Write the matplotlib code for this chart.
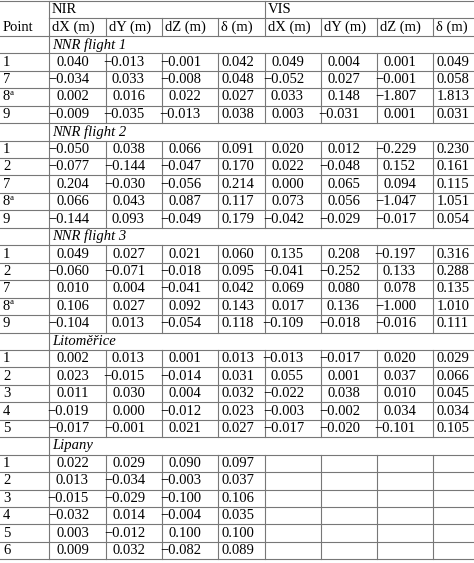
import matplotlib.pyplot as plt

plt.rcParams['font.family'] = ['Liberation Serif', 'DejaVu Serif']

groups = ['NNR flight 1', 'NNR flight 2', 'NNR flight 3', 'Litoměřice', 'Lipany']
points = [
    ['1', '7', '8a', '9'],
    ['1', '2', '7', '8a', '9'],
    ['1', '2', '7', '8a', '9'],
    ['1', '2', '3', '4', '5'],
    ['1', '2', '3', '4', '5', '6'],
]
nir = [
    [[0.040, -0.013, -0.001, 0.042], [-0.034, 0.033, -0.008, 0.048],
     [0.002, 0.016, 0.022, 0.027], [-0.009, -0.035, -0.013, 0.038]],
    [[-0.050, 0.038, 0.066, 0.091], [-0.077, -0.144, -0.047, 0.170],
     [0.204, -0.030, -0.056, 0.214], [0.066, 0.043, 0.087, 0.117],
     [-0.144, 0.093, -0.049, 0.179]],
    [[0.049, 0.027, 0.021, 0.060], [-0.060, -0.071, -0.018, 0.095],
     [0.010, 0.004, -0.041, 0.042], [0.106, 0.027, 0.092, 0.143],
     [-0.104, 0.013, -0.054, 0.118]],
    [[0.002, 0.013, 0.001, 0.013], [0.023, -0.015, -0.014, 0.031],
     [0.011, 0.030, 0.004, 0.032], [-0.019, 0.000, -0.012, 0.023],
     [-0.017, -0.001, 0.021, 0.027]],
    [[0.022, 0.029, 0.090, 0.097], [0.013, -0.034, -0.003, 0.037],
     [-0.015, -0.029, -0.100, 0.106], [-0.032, 0.014, -0.004, 0.035],
     [0.003, -0.012, 0.100, 0.100], [0.009, 0.032, -0.082, 0.089]],
]
vis = [
    [[0.049, 0.004, 0.001, 0.049], [-0.052, 0.027, -0.001, 0.058],
     [0.033, 0.148, -1.807, 1.813], [0.003, -0.031, 0.001, 0.031]],
    [[0.020, 0.012, -0.229, 0.230], [0.022, -0.048, 0.152, 0.161],
     [0.000, 0.065, 0.094, 0.115], [0.073, 0.056, -1.047, 1.051],
     [-0.042, -0.029, -0.017, 0.054]],
    [[0.135, 0.208, -0.197, 0.316], [-0.041, -0.252, 0.133, 0.288],
     [0.069, 0.080, 0.078, 0.135], [0.017, 0.136, -1.000, 1.010],
     [-0.109, -0.018, -0.016, 0.111]],
    [[-0.013, -0.017, 0.020, 0.029], [0.055, 0.001, 0.037, 0.066],
     [-0.022, 0.038, 0.010, 0.045], [-0.003, -0.002, 0.034, 0.034],
     [-0.017, -0.020, -0.101, 0.105]],
    None,
]
col_heads = ['dX (m)', 'dY (m)', 'dZ (m)', 'δ (m)']

W, H = 474, 563
fig = plt.figure(figsize=(W / 100, H / 100), dpi=100)
ax = fig.add_axes([0, 0, 1, 1])
ax.set_xlim(0, W)
ax.set_ylim(H, 0)
ax.axis('off')

xs = [0, 49, 106, 162, 218, 265, 321, 377, 433, 474]
rh = 17.45
lc = '#777777'
fs = 10.5


def fmt(v):
    s = f'{abs(v):.3f}'
    return ('\u2212' + s) if v < 0 else s


def hline(y, x0=0, x1=W):
    ax.plot([x0, x1], [y, y], color=lc, lw=0.8)


def vline(x, y0, y1):
    ax.plot([x, x], [y0, y1], color=lc, lw=0.8)


# header
y = 1
hline(y)
ax.text(xs[1] + 3, y + rh / 2, 'NIR', fontsize=fs, va='center')
ax.text(xs[5] + 3, y + rh / 2, 'VIS', fontsize=fs, va='center')
vline(xs[1], y, y + rh)
vline(xs[5], y, y + rh)
y += rh
hline(y, xs[1])
ax.text(3, y + rh / 2, 'Point', fontsize=fs, va='center')
for i in range(8):
    ax.text(xs[i + 1] + 3, y + rh / 2, col_heads[i % 4], fontsize=fs, va='center')
for x in xs[1:-1]:
    vline(x, y, y + rh)
y += rh

for g, name in enumerate(groups):
    hline(y)
    ax.text(xs[1] + 3, y + rh / 2, name, fontsize=fs, va='center', style='italic')
    vline(xs[1], y, y + rh)
    y += rh
    for r, p in enumerate(points[g]):
        hline(y)
        ax.text(3, y + rh / 2, p[0], fontsize=fs, va='center')
        if p.endswith('a'):
            ax.text(10, y + rh / 2 - 4, 'a', fontsize=6.5, va='center')
        vals = list(nir[g][r]) + (list(vis[g][r]) if vis[g] else [None] * 4)
        for i, v in enumerate(vals):
            if v is None:
                continue
            if i % 4 == 3:
                ax.text(xs[i + 1] + 4, y + rh / 2, fmt(v), fontsize=fs, va='center')
            else:
                ax.text(xs[i + 2] - 17, y + rh / 2, fmt(v), fontsize=fs,
                        va='center', ha='right')
        for x in xs[1:-1]:
            vline(x, y, y + rh)
        y += rh
hline(y)

fig.savefig('out.png', dpi=100)
